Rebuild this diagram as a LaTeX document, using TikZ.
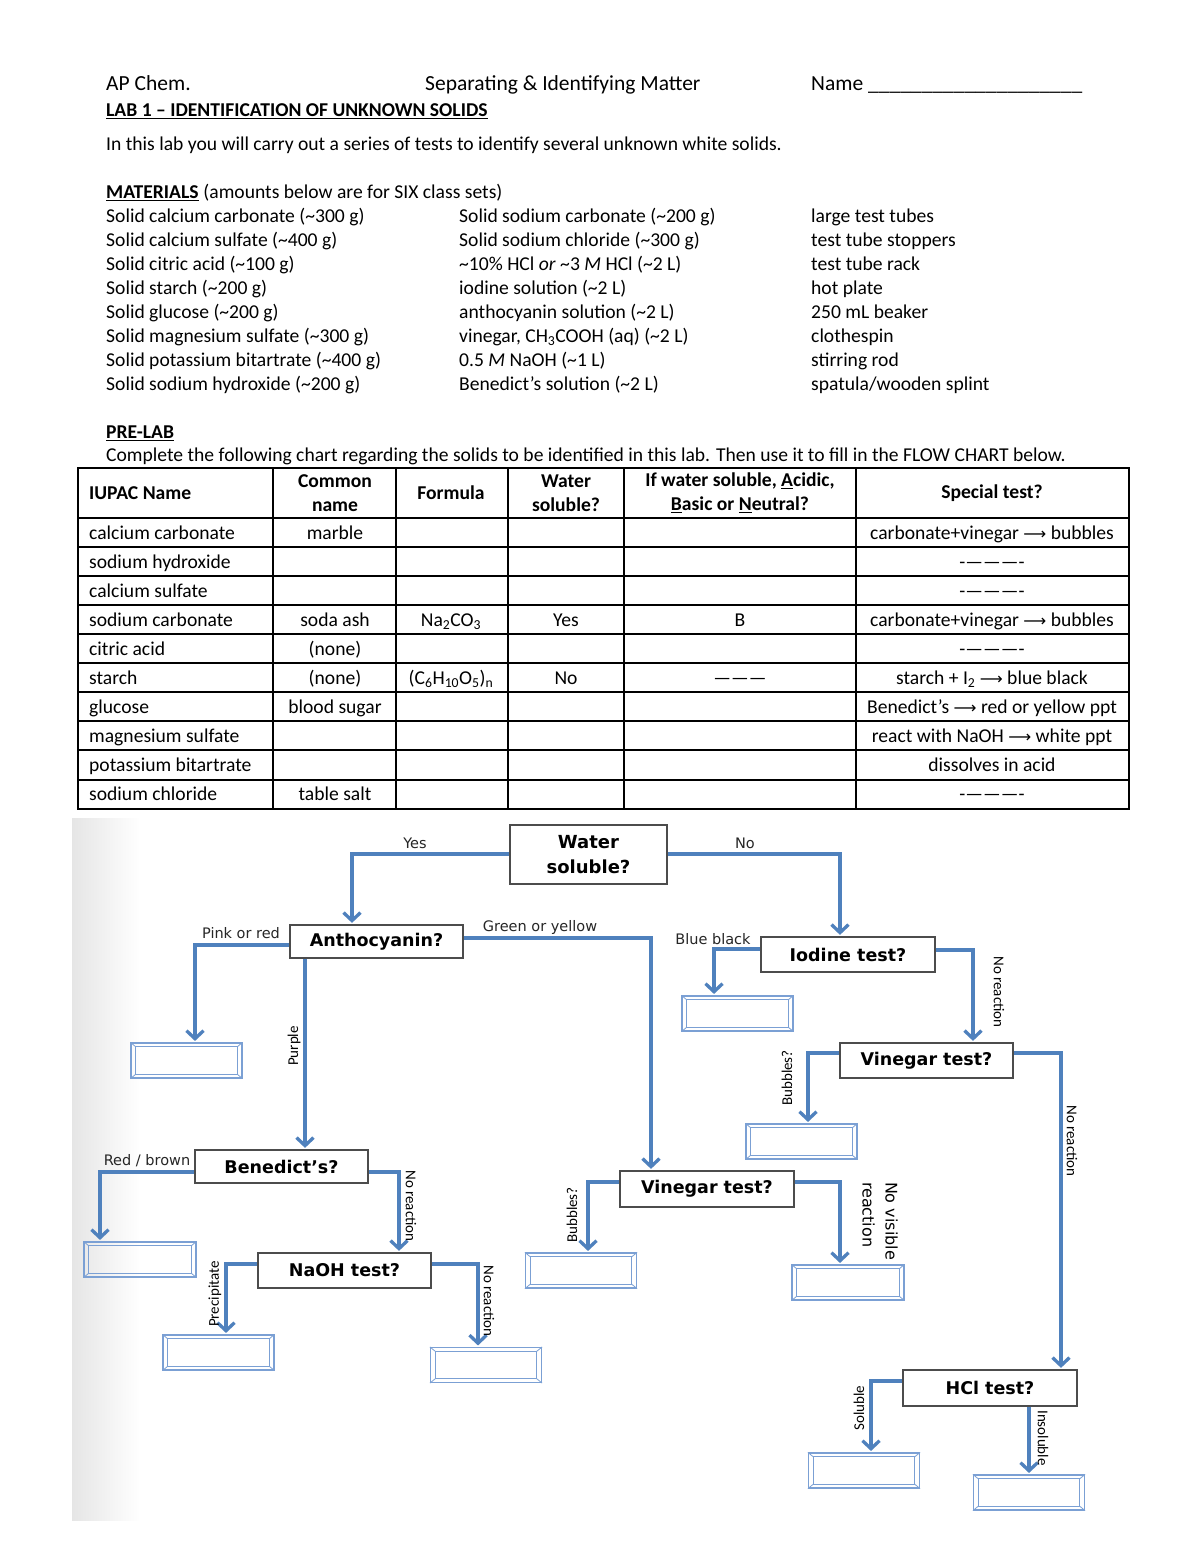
\documentclass[tikz,border=0pt]{standalone}
\usepackage{fontspec}
\setmainfont{Carlito}
\newfontfamily\vfont{DejaVu Sans}
\usetikzlibrary{arrows.meta}
\definecolor{connC}{HTML}{4F81BD}
\definecolor{ansC}{HTML}{7BA0D4}
\newcommand\bodyf{\fontsize{19.6}{24}\selectfont}
\newcommand\headf{\fontsize{21.5}{26}\selectfont}
\newcommand\rarr{{\vfont\fontsize{16}{18}\selectfont ⟶}}
\newcommand\dsh{-———-}
\newcommand\ulx[1]{\setbox0\hbox{#1}\rlap{\rule[-3pt]{\wd0}{1.3pt}}\box0}
\begin{document}
\begin{tikzpicture}[x=1pt,y=-1pt,
 txt/.style={anchor=base west,inner sep=0,font=\bodyf},
 ctxt/.style={anchor=base,inner sep=0,font=\bodyf},
 hdr/.style={inner sep=0,font=\bodyf\bfseries,align=center},
 qbox/.style={draw=black!70,line width=1.3pt,fill=white,inner sep=0,minimum width=173pt,minimum height=35pt,font=\vfont\bfseries\fontsize{17.5}{25}\selectfont,align=center},
 ans/.style={draw=ansC,line width=1.1pt,inner sep=0,minimum width=111pt,minimum height=35pt},
 conn/.style={draw=connC,line width=3.3pt,-{Straight Barb[length=8pt,width=17pt]},shorten >=1.5pt},
 lbl/.style={inner sep=0,font=\vfont\fontsize{14.5}{17}\selectfont,text=black!85},
 rlbl/.style={inner sep=0,font=\fontsize{15}{18}\selectfont},
 thin/.style={line width=1.1pt},
 thick/.style={line width=1.9pt}
]
\useasboundingbox (0,0) rectangle (1200,1553);
\fill[white] (0,0) rectangle (1200,1553);

% ---------- header ----------
\node[anchor=base west,inner sep=0,font=\headf] (apchem) at (106,90) {AP Chem.};
\node[anchor=base west,inner sep=0,font=\headf] (subject) at (425,90) {Separating \& Identifying Matter};
\node[anchor=base west,inner sep=0,font=\headf] (name) at (811,90) {Name \_\_\_\_\_\_\_\_\_\_\_\_\_\_\_\_\_\_\_\_};
\node[txt,font=\bodyf\bfseries] (lab) at (106,116) {\ulx{LAB 1 – IDENTIFICATION OF UNKNOWN SOLIDS}};
\node[txt] (intro) at (106,150) {In this lab you will carry out a series of tests to identify several unknown white solids.};

% ---------- materials ----------
\node[txt,font=\bodyf\bfseries] (mat) at (106,198) {\ulx{MATERIALS}};
\node[txt] (matnote) at (mat.base east) {\ (amounts below are for SIX class sets)};
\foreach [count=\i] \ma/\mb/\mc in {%
Solid calcium carbonate (\textasciitilde 300 g)/Solid sodium carbonate (\textasciitilde 200 g)/large test tubes,%
Solid calcium sulfate (\textasciitilde 400 g)/Solid sodium chloride (\textasciitilde 300 g)/test tube stoppers,%
Solid citric acid (\textasciitilde 100 g)/\textasciitilde 10\% HCl \textit{or} \textasciitilde 3 \textit{M} HCl (\textasciitilde 2 L)/test tube rack,%
Solid starch (\textasciitilde 200 g)/iodine solution (\textasciitilde 2 L)/hot plate,%
Solid glucose (\textasciitilde 200 g)/anthocyanin solution (\textasciitilde 2 L)/250 mL beaker,%
Solid magnesium sulfate (\textasciitilde 300 g)/vinegar{,} CH\textsubscript{3}COOH (aq) (\textasciitilde 2 L)/clothespin,%
Solid potassium bitartrate (\textasciitilde 400 g)/0.5 \textit{M} NaOH (\textasciitilde 1 L)/stirring rod,%
Solid sodium hydroxide (\textasciitilde 200 g)/Benedict’s solution (\textasciitilde 2 L)/spatula{/}wooden splint%
}{
 \pgfmathsetmacro\yb{222+24*(\i-1)}
 \node[txt] (m\i-a) at (106,\yb) {\ma};
 \node[txt] (m\i-b) at (459,\yb) {\mb};
 \node[txt] (m\i-c) at (811,\yb) {\mc};
}

% ---------- pre-lab ----------
\node[txt,font=\bodyf\bfseries] (prelab) at (106,438) {\ulx{PRE-LAB}};
\node[txt] (complete) at (106,461) {Complete the following chart regarding the solids to be identified in this lab. Then use it to fill in the FLOW CHART below.};

% ---------- table ----------
\foreach \yy in {547,576,605,692,721,780} \draw[thin] (78,\yy) -- (1129,\yy);
\foreach \yy in {518,634,663,750} \draw[thick] (78,\yy) -- (1129,\yy);
\foreach \xx in {273,396,508} \draw[thin] (\xx,468) -- (\xx,809);
\foreach \xx in {624,856} \draw[thick] (\xx,468) -- (\xx,809);
\draw[line width=2.4pt] (78,468) rectangle (1129,809);

\node[hdr,anchor=base west] (h1) at (89,499) {IUPAC Name};
\node[hdr] (h2) at (335,493) {Common\\name};
\node[hdr] (h3) at (451,493) {Formula};
\node[hdr] (h4) at (566,493) {Water\\soluble?};
\node[hdr] (h5) at (740,493) {If water soluble, \ulx{A}cidic,\\\ulx{B}asic or \ulx{N}eutral?};
\node[hdr] (h6) at (992,493) {Special test?};

\foreach [count=\i] \ca/\cb/\cc/\cd/\ce/\cf in {%
calcium carbonate/marble////carbonate+vinegar \rarr{} bubbles,%
sodium hydroxide/////\dsh,%
calcium sulfate/////\dsh,%
sodium carbonate/soda ash/Na\textsubscript{2}CO\textsubscript{3}/Yes/B/carbonate+vinegar \rarr{} bubbles,%
citric acid/{(none)}////\dsh,%
starch/{(none)}/{(C\textsubscript{6}H\textsubscript{10}O\textsubscript{5})\textsubscript{n}}/No/———/starch + I\textsubscript{2} \rarr{} blue black,%
glucose/blood sugar////Benedict’s \rarr{} red or yellow ppt,%
magnesium sulfate/////react with NaOH \rarr{} white ppt,%
potassium bitartrate/////dissolves in acid,%
sodium chloride/table salt////\dsh%
}{
 \pgfmathsetmacro\yb{518+29.1*(\i-0.5)+6.5}
 \node[txt] (t\i-a) at (89,\yb) {\ca};
 \node[ctxt] (t\i-b) at (335,\yb) {\cb};
 \node[ctxt] (t\i-c) at (451,\yb) {\cc};
 \node[ctxt] (t\i-d) at (566,\yb) {\cd};
 \node[ctxt] (t\i-e) at (740,\yb) {\ce};
 \node[ctxt] (t\i-f) at (992,\yb) {\cf};
}

% ---------- flow chart ----------
\shade[left color=black!10,right color=white] (72,818) rectangle (140,1520);

\node[qbox,minimum width=157pt,minimum height=59pt,font=\vfont\bfseries\fontsize{18}{25}\selectfont] (water) at (588.5,854.5) {Water\\soluble?};
\node[qbox,minimum height=33pt] (antho) at (376.5,941.5) {Anthocyanin?};
\node[qbox,minimum width=174pt] (iodine) at (848,954.5) {Iodine test?};
\node[qbox] (vin2) at (926.5,1060.5) {Vinegar test?};
\node[qbox,minimum height=33pt] (bened) at (281.5,1166.5) {Benedict’s?};
\node[qbox] (naoh) at (344.5,1270.5) {NaOH test?};
\node[qbox,minimum width=174pt,minimum height=36pt] (vin1) at (707,1189) {Vinegar test?};
\node[qbox,minimum width=174pt,minimum height=36pt] (hcl) at (990,1388) {HCl test?};

\node[ans] (a1) at (186.5,1060.5) {};
\node[ans] (a2) at (737.5,1013.5) {};
\node[ans] (a3) at (801.5,1141.5) {};
\node[ans,minimum width=112pt] (a4) at (140,1259.5) {};
\node[ans] (a5) at (218.5,1352.5) {};
\node[ans] (a6) at (486,1365) {};
\node[ans] (a7) at (581,1270.5) {};
\node[ans,minimum width=112pt] (a8) at (848,1282.5) {};
\node[ans] (a9) at (864,1470.5) {};
\node[ans] (a10) at (1029,1492.5) {};
\foreach \n in {a1,a2,a3,a4,a5,a6,a7,a8,a9,a10}{
 \draw[ansC,line width=1pt] ([shift={(5.5pt,-4.5pt)}]\n.north west) rectangle ([shift={(-5.5pt,4.5pt)}]\n.south east);
 \draw[ansC,line width=0.8pt] (\n.north west) -- ([shift={(5.5pt,-4.5pt)}]\n.north west)
   (\n.north east) -- ([shift={(-5.5pt,-4.5pt)}]\n.north east)
   (\n.south west) -- ([shift={(5.5pt,4.5pt)}]\n.south west)
   (\n.south east) -- ([shift={(-5.5pt,4.5pt)}]\n.south east);
}

% connectors
\draw[conn] ([yshift=0.5pt]water.west) -| ([xshift=-24.5pt]antho.north);
\draw[conn] ([yshift=0.5pt]water.east) -| ([xshift=-8pt]iodine.north);
\draw[conn] ([yshift=-3.5pt]antho.west) -| ([xshift=8.5pt]a1.north);
\draw[conn] ([xshift=-71.5pt]antho.south) -- ([xshift=23.5pt]bened.north);
\draw[conn] ([yshift=3.5pt]antho.east) -| ([xshift=-56pt]vin1.north);
\draw[conn] ([yshift=5.5pt]iodine.west) -| ([xshift=-23.5pt]a2.north);
\draw[conn] ([yshift=4.5pt]iodine.east) -| ([xshift=46.5pt]vin2.north);
\draw[conn] ([yshift=7.5pt]vin2.west) -| ([xshift=6.5pt]a3.north);
\draw[conn] ([yshift=7.5pt]vin2.east) -| ([xshift=71pt]hcl.north);
\draw[conn] ([yshift=-5.5pt]bened.west) -| ([xshift=-40pt]a4.north);
\draw[conn] ([yshift=-5.5pt]bened.east) -| ([xshift=54.5pt]naoh.north);
\draw[conn] ([yshift=6.5pt]naoh.west) -| ([xshift=7.5pt]a5.north);
\draw[conn] ([yshift=6.5pt]naoh.east) -| ([xshift=-8pt]a6.north);
\draw[conn] ([yshift=7pt]vin1.west) -| ([xshift=7pt]a7.north);
\draw[conn] ([yshift=7pt]vin1.east) -| ([xshift=-8pt]a8.north);
\draw[conn] ([yshift=7pt]hcl.west) -| ([xshift=7pt]a9.north);
\draw[conn] ([xshift=39pt]hcl.south) -- (a10.north);

% labels
\node[lbl] (lyes) at (415,843) {Yes};
\node[lbl] (lno) at (745,843) {No};
\node[lbl] (lpink) at (241,933) {Pink or red};
\node[lbl] (lgreen) at (540,927) {Green or yellow};
\node[lbl] (lblue) at (713,939) {Blue black};
\node[lbl] (lred) at (147,1161) {Red / brown};
\node[rlbl,rotate=90] (lpurple) at (294,1046) {Purple};
\node[rlbl,rotate=-90] (lnr1) at (999,992) {No reaction};
\node[rlbl,rotate=90] (lbub1) at (787,1078) {Bubbles?};
\node[rlbl,rotate=-90] (lnr2) at (1072,1141) {No reaction};
\node[rlbl,rotate=-90] (lnr3) at (411,1206) {No reaction};
\node[rlbl,rotate=90] (lprec) at (215,1294) {Precipitate};
\node[rlbl,rotate=-90] (lnr4) at (489,1301) {No reaction};
\node[rlbl,rotate=90] (lbub2) at (572,1215) {Bubbles?};
\node[inner sep=0,rotate=-90,align=left,font=\vfont\fontsize{16}{23}\selectfont] (lnvr) at (880,1221) {No visible\\reaction};
\node[rlbl,rotate=90] (lsol) at (859,1408) {Soluble};
\node[rlbl,rotate=-90] (linsol) at (1043,1438) {Insoluble};
\end{tikzpicture}
\end{document}
